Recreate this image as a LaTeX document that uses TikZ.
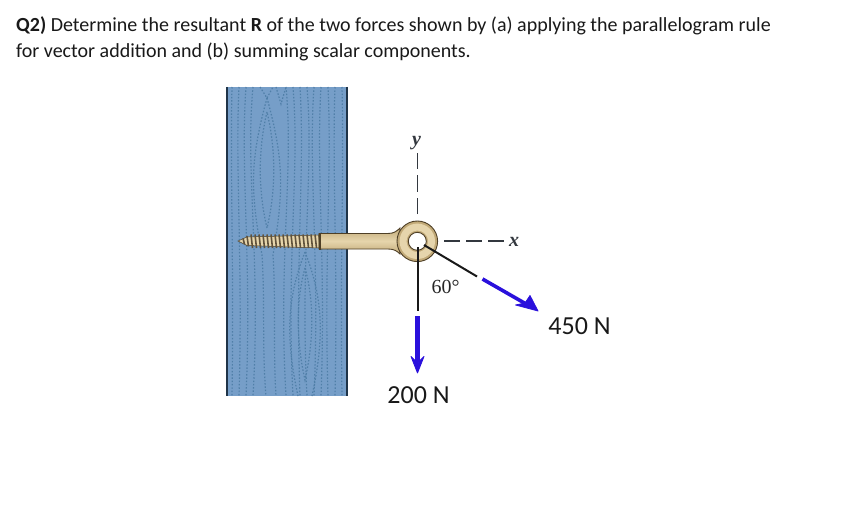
\documentclass[tikz,border=0pt]{standalone}
\usepackage{fontspec}
\setmainfont{Carlito}
\newfontfamily\lab{Liberation Serif}
\definecolor{wood}{HTML}{769EC8}
\definecolor{grain}{HTML}{507FA8}
\definecolor{woodedge}{HTML}{1F3448}
\definecolor{brass}{HTML}{E6D5AC}
\definecolor{brassm}{HTML}{C2AA78}
\definecolor{brassd}{HTML}{4E3F26}
\definecolor{force}{HTML}{2A10DC}
\definecolor{axisc}{HTML}{33383F}
\tikzset{
  x=1pt,y=-1pt,
  qtext/.style={anchor=base west,inner sep=0pt,font=\fontsize{20}{24}\selectfont,text=black!90},
  loadtext/.style={inner sep=0pt,font=\fontsize{26}{28}\selectfont,text=black!90},
  axislabel/.style={inner sep=0pt,text=axisc,font=\lab\itshape\bfseries\fontsize{20}{20}\selectfont},
  anglelabel/.style={inner sep=0pt,text=black!85,font=\lab\fontsize{20}{20}\selectfont},
  axisline/.style={draw=axisc,line width=1.5pt},
  rodline/.style={draw=black!90,line width=2pt},
  forceline/.style={draw=force,line width=4.4pt},
  diagline/.style={draw=force,line width=3.6pt},
  forcehead/.style={draw=force,line width=.8pt,line join=round,fill=force},
  grainline/.style={draw=grain,line width=1.2pt,dash pattern=on 1.5pt off 1.8pt},
}
\begin{document}
\begin{tikzpicture}
\useasboundingbox (0,0) rectangle (845,505);
\fill[white] (0,0) rectangle (845,505);
\node[qtext] (line1) at (16,32) {\textbf{Q2)} Determine the resultant \textbf{R} of the two forces shown by (a) applying the parallelogram rule};
\node[qtext] (line2) at (16,58) {for vector addition and (b) summing scalar components.};
% wood
\fill[wood] (227,87) rectangle (347,396);
\begin{scope}
\clip (227,87) rectangle (347,396);
\foreach \x/\w in {232/2,239/4,246/6,253/8,286/-8,293/-7,300/-5,307/-7,314/6,321/5,328/-4,335/3,342/-2}{
  \draw[grainline] (\x,87) .. controls (\x-\w,170) and (\x+\w,260) .. (\x,396);
}
\draw[grainline] (267,112) .. controls (258,150) and (258,190) .. (267,228) .. controls (276,190) and (276,150) .. (267,112);
\draw[grainline] (267,98) .. controls (250,160) and (250,190) .. (262,255) .. controls (265,300) and (262,350) .. (266,396);
\draw[grainline] (267,98) .. controls (284,160) and (284,190) .. (273,255) .. controls (276,300) and (273,350) .. (276,396);
\draw[grainline] (260,87) -- (267,98) -- (273,87);
\draw[grainline] (276,87) -- (281,104) -- (286,87);
\draw[grainline] (305,268) .. controls (296,300) and (296,340) .. (305,380) .. controls (314,340) and (314,300) .. (305,268);
\draw[grainline] (305,252) .. controls (286,300) and (286,340) .. (298,396);
\draw[grainline] (305,252) .. controls (324,300) and (324,340) .. (312,396);
\end{scope}
\draw[woodedge,line width=1.4pt] (227,87) -- (227,396) (347,87) -- (347,396);
% axes
\coordinate (yend) at (417.5,153);
\coordinate (ystart) at (417.5,214);
\coordinate (xstart) at (444,241);
\coordinate (xend) at (504,241);
\draw[axisline,dash pattern=on 16pt off 6.5pt] (ystart) -- (yend);
\draw[axisline,dash pattern=on 16pt off 6pt] (xstart) -- (xend);
\node[axislabel] (ylab) at (416.5,143) {y};
\node[axislabel] (xlab) at (514,241.5) {x};
% threaded part
\fill[brass,draw=brassd,line width=.5pt] (238,241) -- (247,237) -- (319,235) -- (319,248) -- (247,245.5) -- cycle;
\foreach \x in {243,247,...,319}{
  \draw[brassd!90,line width=1.6pt] (\x,{241-min(6.5,(\x-238)*.55)}) -- (\x+1.5,{241.5+min(6.5,(\x-238)*.55)});
}
% shank
\shade[top color=brassm,bottom color=brassm,middle color=brass,draw=brassd,line width=.9pt]
  (319,233.5) -- (388,233.5) .. controls (394,233.5) and (397,231) .. (400,228) -- (400,254) .. controls (397,251) and (394,249) .. (388,249) -- (319,249) -- cycle;
\fill[brassd] (319,233) rectangle (320.5,249.5);
% eye
\path[fill=brassm,draw=brassd,line width=.9pt] (417.3,241.3) circle (20.3);
\draw[brass,line width=7pt] (417.3,241.3) circle (14.2);
\path[fill=white,draw=brassd,line width=.9pt] (417.3,241.3) circle (9);
% rods and forces
\coordinate (rodAs) at (417.5,247);
\coordinate (rodAe) at (417.5,310.5);
\coordinate (rodBs) at (424,245);
\coordinate (rodBe) at (477,276.5);
\draw[rodline] (rodAs) -- (rodAe);
\draw[rodline] (rodBs) -- (rodBe);
\coordinate (fAs) at (417.5,316);
\coordinate (fAe) at (417.5,373);
\coordinate (fBs) at (482.5,279);
\coordinate (fBe) at (538,311);
\draw[forceline] (fAs) -- (417.5,362);
\draw[forcehead] (fAe) -- (411,356.5) -- (417.5,363) -- (424,356.5) -- cycle;
\draw[diagline] (fBs) -- (527,304.5);
\draw[forcehead] (fBe) -- (515.5,305) -- (525,303) -- (530,295.5) -- cycle;
\node[anglelabel] (ang) at (445.5,286.5) {60°};
\node[loadtext] (f200) at (418.5,395) {200 N};
\node[loadtext] (f450) at (579.5,326) {450 N};
\end{tikzpicture}
\end{document}
